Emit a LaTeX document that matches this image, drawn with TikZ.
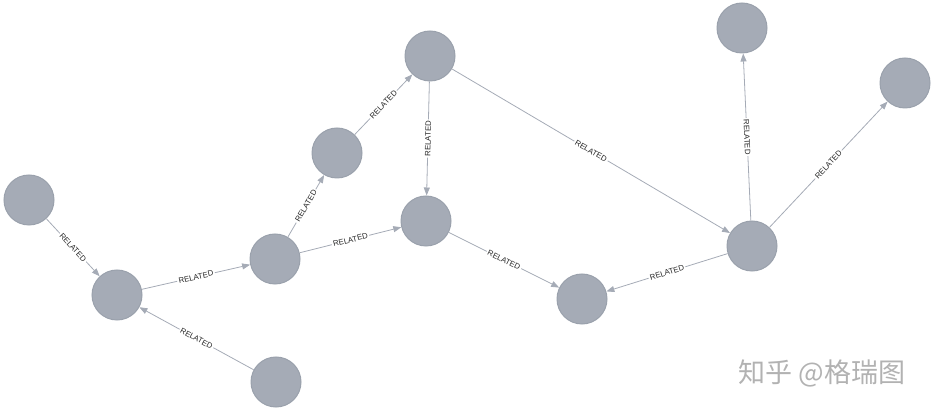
\documentclass[tikz,border=0pt]{standalone}
\usepackage{fontspec}
\setsansfont{Liberation Sans}
\newfontfamily\cjk{Noto Sans CJK SC}
\usetikzlibrary{arrows.meta}
\definecolor{nodegray}{HTML}{A5ABB6}
\definecolor{nodeline}{HTML}{9AA1AC}
\definecolor{edgegray}{HTML}{A5ABB6}
\tikzstyle{vertex}=[circle,fill=nodegray,draw=nodeline,line width=1pt,minimum size=50pt,inner sep=0pt]
\tikzstyle{rel}=[draw=edgegray,line width=0.8pt,-{Triangle[length=8pt,width=6pt]}]
\tikzstyle{rellabel}=[sloped,fill=white,inner sep=1.5pt,font=\sffamily\fontsize{7.8}{8}\selectfont,text=black!85]

\begin{document}
\begin{tikzpicture}[x=1pt,y=-1pt]
    \useasboundingbox (0,0) rectangle (934,411);
    \node[vertex] (a) at (29,200)  {};
    \node[vertex] (b) at (117,295) {};
    \node[vertex] (c) at (276,382) {};
    \node[vertex] (d) at (275,259) {};
    \node[vertex] (e) at (337,153) {};
    \node[vertex] (f) at (430,56)  {};
    \node[vertex] (g) at (426,221) {};
    \node[vertex] (h) at (582,299) {};
    \node[vertex] (i) at (752,246) {};
    \node[vertex] (j) at (742,28)  {};
    \node[vertex] (k) at (905,83)  {};

    \foreach \from/\to in {a/b,c/b,b/d,d/e,e/f,d/g,f/g,f/i,g/h,i/h,i/j,i/k}
    \draw[rel] (\from) -- node[rellabel] {RELATED} (\to);

    \node[text=black!30,font=\cjk\fontsize{27}{29}\selectfont] (mark) at (822,373) {知乎 @格瑞图};
\end{tikzpicture}
\end{document}
